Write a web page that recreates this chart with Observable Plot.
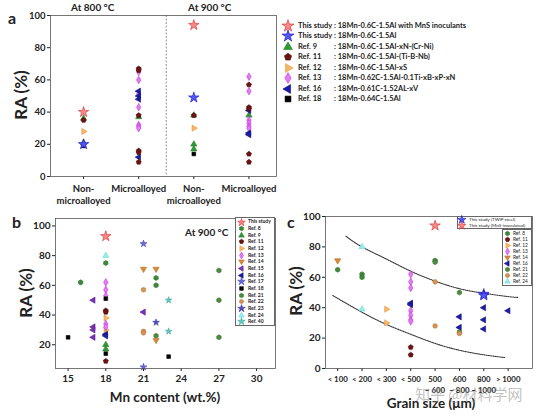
<!DOCTYPE html>
<html><head><meta charset="utf-8">
<script src="https://cdn.jsdelivr.net/npm/d3@7"></script>
<script src="https://cdn.jsdelivr.net/npm/@observablehq/plot@0.6"></script>
<style>
body{margin:0;background:#fff;font-family:Lato,"Open Sans",sans-serif;}
#root{position:relative;width:553px;height:420px;overflow:hidden;background:#fff;}
.abs{position:absolute;white-space:nowrap;color:#222;font-weight:bold;line-height:1;}
</style></head><body><div id="root"></div>
<script>
// ---------- DATA ----------
// Panel a: [category position, RA %]
const aTickPos = [1, 2, 3, 4];
const aTickLabels = ["Non-\nmicroalloyed", "Microalloyed", "Non-\nmicroalloyed", "Microalloyed"];
const aTemps = ["At 800 °C", "At 900 °C"];
const aMnS   = [[1,40],[3,94]];
const aThis  = [[1,20],[3,49]];
const aRef9  = [[1,36],[1,21],[2,37],[3,38],[3,20],[3,17],[4,38]];
const aRef11 = [[1,35],[2,67],[2,66],[2,38],[2,16],[2,15],[2,9],[3,38],[4,57],[4,43],[4,42],[4,14],[4,9]];
const aRef12 = [[1,28],[3,30]];
const aRef13 = [[2,65],[2,60],[2,51],[2,43],[2,32],[2,31],[2,30],[4,62],[4,53],[4,35],[4,33],[4,31],[4,30]];
const aRef16 = [[2,53],[2,50],[2,48],[2,12],[4,41],[4,27],[4,26]];
const aRef18 = [[1,19],[3,14]];
const aLegendKeys  = ["mns","this","Ref. 9","Ref. 11","Ref. 12","Ref. 13","Ref. 16","Ref. 18"];
const aLegendNames = ["This study","This study","Ref. 9","Ref. 11","Ref. 12","Ref. 13","Ref. 16","Ref. 18"];
const aLegendDescs = [": 18Mn-0.6C-1.5Al  with MnS inoculants", ": 18Mn-0.6C-1.5Al", ": 18Mn-0.6C-1.5Al-xN-(Cr-Ni)",
  ": 18Mn-0.6C-1.5Al-(Ti-B-Nb)", ": 18Mn-0.6C-1.5Al-xS", ": 18Mn-0.62C-1.5Al-0.1Ti-xB-xP-xN",
  ": 18Mn-0.61C-1.52AL-xV", ": 18Mn-0.64C-1.5Al"];

// Panel b: [Mn wt.%, RA %]
const bTicks = [15, 18, 21, 24, 27, 30];
const bThis  = [[18,93]];
const bRef8  = [[16,62],[18,75],[22,65],[22,60]];
const bRef9  = [[18,20],[18,17]];
const bRef11 = [[18,43],[18,42],[18,9]];
const bRef12 = [[18,38],[18,30]];
const bRef13 = [[18,62],[18,57],[18,53],[18,34],[18,32]];
const bRef14 = [[21,71],[22,71],[22,23]];
const bRef15 = [[17,50],[17,32],[17,30],[17,25],[21,42]];
const bRef16 = [[18,27],[18,26]];
const bRef17 = [[21,88],[21,5]];
const bRef18 = [[15,25],[18,51],[18,14],[23,12]];
const bRef21 = [[27,70],[27,50],[27,25],[22,26]];
const bRef22 = [[21,57],[21,29],[21,28]];
const bRef23 = [[22,35]];
const bRef24 = [[18,80]];
const bRef40 = [[23,50],[23,29]];
const bLegendKeys = ["mns","Ref. 8","Ref. 9","Ref. 11","Ref. 12","Ref. 13","Ref. 14","Ref. 15","Ref. 16","Ref. 17","Ref. 18","Ref. 21","Ref. 22","Ref. 23","Ref. 24","Ref. 40"];
const bLegendNames = ["This study","Ref. 8","Ref. 9","Ref. 11","Ref. 12","Ref. 13","Ref. 14","Ref. 15","Ref. 16","Ref. 17","Ref. 18","Ref. 21","Ref. 22","Ref. 23","Ref. 24","Ref. 40"];

// Panel c: [grain size class position, RA %]
const cTickPos = [1, 2, 3, 4, 5, 6, 7, 8];
const cTickLabels = ["< 100", "< 200", "< 300", "< 500", "500\n~ 600", "600\n~ 800", "800\n~ 1000", "> 1000"];
const cTWIP  = [[7,49],[7,48]];
const cMnS   = [[5,94]];
const cRef8  = [[1,65],[2,62],[2,60],[5,71]];
const cRef11 = [[4,14],[4,9]];
const cRef12 = [[3,39],[3,30]];
const cRef13 = [[4,62],[4,57],[4,53],[4,38],[4,35],[4,32],[4,31]];
const cRef14 = [[1,71]];
const cRef16 = [[4,43],[4,42],[6,34],[6,27],[7,40],[7,32],[7,26],[8,38]];
const cRef21 = [[5,70],[6,50],[6,24]];
const cRef22 = [[5,57],[5,28],[6,23]];
const cRef24 = [[2,80],[2,39]];
const cUpperCurve = [[1.34,87],[2,80],[3,72],[4,64],[5,57.5],[6,52.5],[7,49.5],[8,47.3],[8.4,46.8]];
const cLowerCurve = [[0.8,48],[2,37],[3,29],[4,22.5],[5,16.5],[6,12],[7,9],[7.86,7.2]];
const cLegend1Keys = ["this","mns"];
const cLegend1Names = ["This study (TWIP steel)","This study (MnS-inoculated)"];
const cLegend2Keys = ["Ref. 8","Ref. 11","Ref. 12","Ref. 13","Ref. 14","Ref. 16","Ref. 21","Ref. 22","Ref. 24"];
const cLegend2Names = ["Ref. 8","Ref. 11","Ref. 12","Ref. 13","Ref. 14","Ref. 16","Ref. 21","Ref. 22","Ref. 24"];

// ---------- SYMBOLS & STYLES ----------
function poly(n, a0) {
  return {draw(ctx, size) {
    const area = 0.5 * n * Math.sin(2 * Math.PI / n);
    const R = Math.sqrt(size / area);
    for (let k = 0; k < n; k++) {
      const a = a0 + k * 2 * Math.PI / n;
      const x = R * Math.cos(a), y = R * Math.sin(a);
      k ? ctx.lineTo(x, y) : ctx.moveTo(x, y);
    }
    ctx.closePath();
  }};
}
const triUp = poly(3, -Math.PI/2), triRight = poly(3, 0), triLeft = poly(3, Math.PI), triDown = poly(3, Math.PI/2);
const pentagon = poly(5, -Math.PI/2), hexagon = poly(6, -Math.PI/2);
const styles = {
  "mns":     {fill:"#f38a8a", stroke:"#e02828", symbol:d3.symbolStar, r:3.3},
  "this":    {fill:"#5555f2", stroke:"#1111c8", symbol:d3.symbolStar, r:3.3},
  "Ref. 8":  {fill:"#3f8a3a", stroke:"#2e6e2a", symbol:hexagon, r:2.3},
  "Ref. 9":  {fill:"#2f9a33", stroke:"#237a26", symbol:triUp, r:2.3},
  "Ref. 11": {fill:"#6e1212", stroke:"#4e0a0a", symbol:pentagon, r:2.3},
  "Ref. 12": {fill:"#f6b66a", stroke:"#e89a40", symbol:triRight, r:2.3},
  "Ref. 13": {fill:"#e27cf2", stroke:"#c53ada", symbol:d3.symbolDiamond, r:2.3},
  "Ref. 14": {fill:"#d88a3c", stroke:"#b86e24", symbol:triDown, r:2.3},
  "Ref. 15": {fill:"#7a32b4", stroke:"#5c1e92", symbol:triLeft, r:2.3},
  "Ref. 16": {fill:"#1c1ca6", stroke:"#101080", symbol:triLeft, r:2.3},
  "Ref. 17": {fill:"#6a6ad8", stroke:"#4a4ab8", symbol:d3.symbolStar, r:2.2},
  "Ref. 18": {fill:"#000000", stroke:"#000000", symbol:d3.symbolSquare, r:2.1},
  "Ref. 21": {fill:"#4e8c3e", stroke:"#3a7030", symbol:hexagon, r:2.3},
  "Ref. 22": {fill:"#d69258", stroke:"#b87838", symbol:d3.symbolCircle, r:2.3},
  "Ref. 23": {fill:"#5050b8", stroke:"#383898", symbol:d3.symbolStar, r:2.1},
  "Ref. 24": {fill:"#98ecec", stroke:"#70d8d8", symbol:triUp, r:2.3},
  "Ref. 40": {fill:"#62c8be", stroke:"#44aaa0", symbol:d3.symbolStar, r:2.1}
};
function dotsFor(list) {
  return list.map(([key, pts]) => {
    const s = styles[key];
    return Plot.dot(pts, {x: d => d[0], y: d => d[1], symbol: s.symbol, r: s.r, fill: s.fill, stroke: s.stroke, strokeWidth: 0.6});
  });
}
const root = document.getElementById("root");
function place(el, left, top) { el.style.position = "absolute"; el.style.left = left + "px"; el.style.top = top + "px"; root.appendChild(el); return el; }
function text(str, left, top, size, extra) {
  const d = document.createElement("div"); d.className = "abs"; d.textContent = str;
  d.style.fontSize = size + "px"; if (extra) Object.assign(d.style, extra);
  return place(d, left, top);
}
function symbolSvg(key, size, cx, cy) {
  const s = styles[key];
  const svg = d3.create("svg").attr("width", size).attr("height", size).style("overflow","visible");
  const rr = (size / 2) * 0.95;
  svg.append("path").attr("transform", `translate(${size/2},${size/2})`)
    .attr("d", d3.symbol().type(s.symbol).size(Math.PI * rr * rr * (s.symbol === d3.symbolStar ? 1.0 : 0.75))())
    .attr("fill", s.fill).attr("stroke", s.stroke).attr("stroke-width", 0.6);
  return place(svg.node(), cx - size/2, cy - size/2);
}
function box(left, top, w, h) {
  const d = document.createElement("div");
  Object.assign(d.style, {width: w + "px", height: h + "px", border: "0.8px solid #666", background:"#fff", boxSizing:"border-box"});
  return place(d, left, top);
}
const baseStyle = {fontFamily:"Lato, 'Open Sans', sans-serif", fontWeight:"bold", color:"#222", background:"transparent", overflow:"visible"};

// ---------- PANEL A ----------
const plotA = Plot.plot({
  width: 280, height: 205, marginLeft: 50, marginRight: 4, marginTop: 15, marginBottom: 29,
  x: {domain: [0.4, 4.5]}, y: {domain: [0, 100]},
  style: {...baseStyle, fontSize: "9.5px"},
  marks: [
    Plot.ruleX([2.5], {stroke: "#777", strokeWidth: 0.8, strokeDasharray: "2,1.5"}),
    Plot.axisY({ticks: [0,20,40,60,80,100], tickSize: 3, tickPadding: 2, label: null, fontSize: 9.5}),
    Plot.axisX({ticks: aTickPos, tickFormat: d => aTickLabels[aTickPos.indexOf(d)], tickSize: 3, tickPadding: 4, label: null, fontSize: 9.5, lineHeight: 1.25}),
    ...dotsFor([["Ref. 18", aRef18], ["Ref. 12", aRef12], ["Ref. 9", aRef9], ["Ref. 13", aRef13], ["Ref. 16", aRef16], ["Ref. 11", aRef11], ["this", aThis], ["mns", aMnS]]),
    Plot.frame({stroke: "#555", strokeWidth: 0.8})
  ]
});
place(plotA, 0, 0);
text(aTemps[0], 71, 2, 10);
text(aTemps[1], 188, 2, 10);
text("a", 8, 10, 16);
text("RA (%)", 20, 95, 17, {transform: "translate(-50%,-50%) rotate(-90deg)"});
aLegendKeys.forEach((k, i) => {
  const cy = 26 + i * 10.45;
  symbolSvg(k, 8, 288, cy);
  text(aLegendNames[i], 298, cy - 4, 7.5, {width: "36px"});
  text(aLegendDescs[i], 334, cy - 4, 7.5);
});

// ---------- PANEL B ----------
const plotB = Plot.plot({
  width: 285, height: 215, marginLeft: 55, marginRight: 10, marginTop: 13, marginBottom: 52,
  x: {domain: [14, 31.5]}, y: {domain: [4, 105]},
  style: {...baseStyle, fontSize: "10px"},
  marks: [
    Plot.axisY({ticks: [20,40,60,80,100], tickSize: 3, tickPadding: 2, label: null, fontSize: 10}),
    Plot.axisX({ticks: bTicks, tickSize: 3, tickPadding: 3, label: null, fontSize: 10}),
    ...dotsFor([["Ref. 21", bRef21], ["Ref. 8", bRef8], ["Ref. 9", bRef9], ["Ref. 12", bRef12], ["Ref. 13", bRef13], ["Ref. 14", bRef14], ["Ref. 15", bRef15],
      ["Ref. 16", bRef16], ["Ref. 17", bRef17], ["Ref. 18", bRef18], ["Ref. 11", bRef11], ["Ref. 22", bRef22], ["Ref. 23", bRef23], ["Ref. 24", bRef24], ["Ref. 40", bRef40], ["mns", bThis]]),
    Plot.frame({stroke: "#555", strokeWidth: 0.8})
  ]
});
place(plotB, 0, 205);
text("b", 12, 214, 16);
text("At 900 °C", 185, 227, 10);
text("RA (%)", 25, 293, 17, {transform: "translate(-50%,-50%) rotate(-90deg)"});
text("Mn content (wt.%)", 165, 398, 13.5, {transform: "translate(-50%,-50%)"});
box(235, 217, 40, 109);
bLegendKeys.forEach((k, i) => {
  const cy = 222 + i * 6.65;
  symbolSvg(k, 5, 241, cy);
  text(bLegendNames[i], 248, cy - 2.6, 5);
});

// ---------- PANEL C ----------
const plotC = Plot.plot({
  width: 268, height: 215, marginLeft: 40, marginRight: 21, marginTop: 11, marginBottom: 52,
  x: {domain: [0.5, 9]}, y: {domain: [0, 100]},
  style: {...baseStyle, fontSize: "9.5px"},
  marks: [
    Plot.axisY({ticks: [0,20,40,60,80,100], tickSize: 3, tickPadding: 2, label: null, fontSize: 10}),
    Plot.axisX({ticks: cTickPos, tickFormat: d => cTickLabels[cTickPos.indexOf(d)], tickSize: 3, tickPadding: 3, label: null, fontSize: 7.8, lineHeight: 1.35}),
    Plot.line(cUpperCurve, {x: d => d[0], y: d => d[1], curve: "natural", stroke: "#333", strokeWidth: 1.1, strokeDasharray: "0.8,1"}),
    Plot.line(cLowerCurve, {x: d => d[0], y: d => d[1], curve: "natural", stroke: "#333", strokeWidth: 1.1, strokeDasharray: "0.8,1"}),
    ...dotsFor([["Ref. 12", cRef12], ["Ref. 13", cRef13], ["Ref. 16", cRef16], ["Ref. 11", cRef11], ["Ref. 8", cRef8], ["Ref. 14", cRef14],
      ["Ref. 21", cRef21], ["Ref. 22", cRef22], ["Ref. 24", cRef24], ["this", cTWIP], ["mns", cMnS]]),
    Plot.frame({stroke: "#555", strokeWidth: 0.8})
  ]
});
place(plotC, 285, 205);
text("c", 287, 214, 16);
text("RA (%)", 295, 291, 17, {transform: "translate(-50%,-50%) rotate(-90deg)"});
text("Grain size (μm)", 431, 404, 13.5, {transform: "translate(-50%,-50%)"});
box(457, 216, 75, 13);
cLegend1Keys.forEach((k, i) => {
  const cy = 219.8 + i * 5.6;
  symbolSvg(k, 5.5, 462, cy);
  text(cLegend1Names[i], 469, cy - 2.5, 4.6, {fontWeight: "normal"});
});
box(502, 229, 30, 57);
cLegend2Keys.forEach((k, i) => {
  const cy = 233.5 + i * 6.05;
  symbolSvg(k, 5, 507, cy);
  text(cLegend2Names[i], 513, cy - 2.5, 4.8, {fontWeight: "normal"});
});

// watermark
text("知乎 @材料学网", 415, 386, 15, {fontFamily: "'Noto Sans CJK SC', sans-serif", fontWeight: "normal", color: "rgba(140,140,140,0.55)"});
</script></body></html>
